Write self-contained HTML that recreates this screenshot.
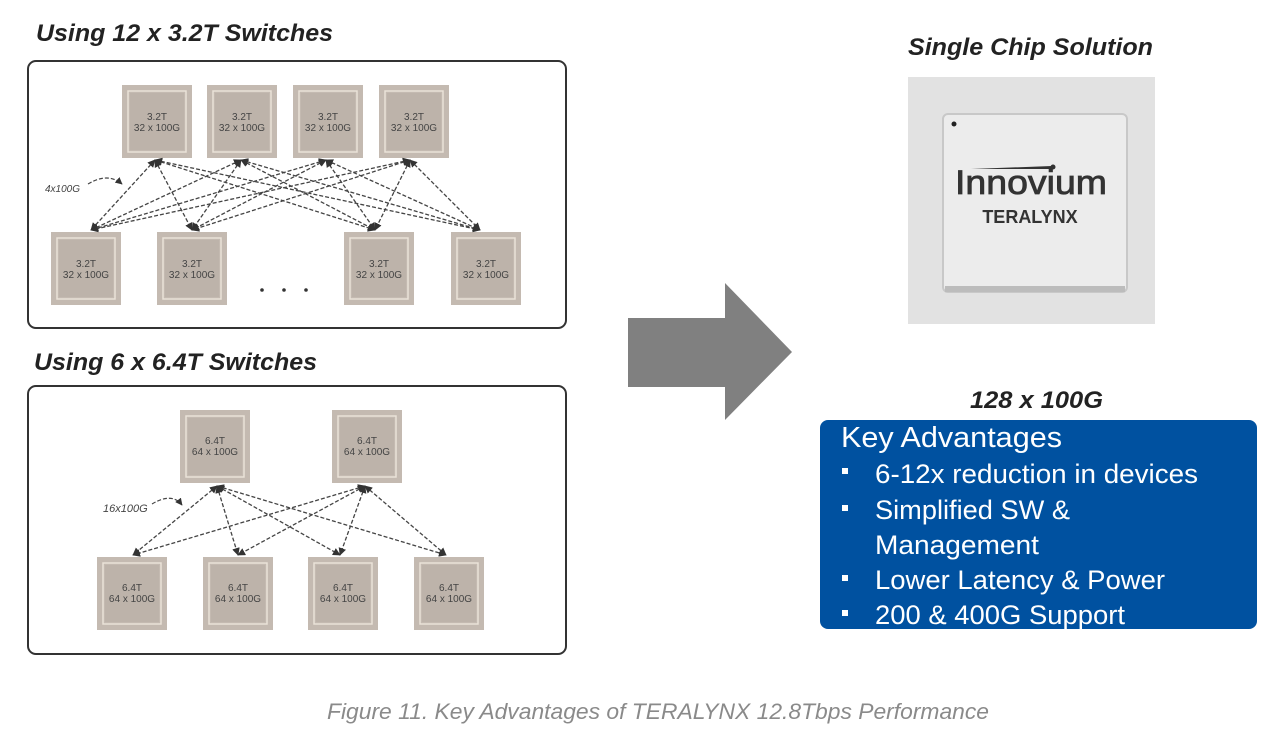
<!DOCTYPE html>
<html><head><meta charset="utf-8"><style>
html,body{margin:0;padding:0;background:#fff;}
svg{display:block;}
.h{font-family:"Liberation Sans",sans-serif;font-weight:bold;font-style:italic;font-size:24px;fill:#222;}
.cl{font-family:"Liberation Sans",sans-serif;font-size:10px;fill:#444;text-anchor:middle;}
.w{font-family:"Liberation Sans",sans-serif;fill:#fff;}
</style></head><body>
<svg width="1278" height="753" viewBox="0 0 1278 753" xmlns="http://www.w3.org/2000/svg">
<defs>
<marker id="a" viewBox="0 0 10 10" refX="9" refY="5" markerWidth="6" markerHeight="6" orient="auto-start-reverse"><path d="M0,0 L10,5 L0,10 z" fill="#333"/></marker>
<g id="chip"><rect x="0" y="0" width="70" height="73" fill="#c4bab1"/><rect x="6" y="6" width="58" height="61" fill="none" stroke="#eae2d8" stroke-width="1.5"/><rect x="8" y="8" width="54" height="57" fill="#bdb3aa"/></g>
</defs>
<text class="h" x="36" y="41" textLength="297" lengthAdjust="spacingAndGlyphs">Using 12 x 3.2T Switches</text>
<text class="h" x="34" y="370" textLength="283" lengthAdjust="spacingAndGlyphs">Using 6 x 6.4T Switches</text>
<rect x="28" y="61" width="538" height="267" rx="8" fill="#fff" stroke="#333" stroke-width="2"/>
<rect x="28" y="386" width="538" height="268" rx="8" fill="#fff" stroke="#333" stroke-width="2"/>

<g>
<use href="#chip" x="122" y="85"/><use href="#chip" x="207" y="85"/><use href="#chip" x="293" y="85"/><use href="#chip" x="379" y="85"/>
<use href="#chip" x="51" y="232"/><use href="#chip" x="157" y="232"/><use href="#chip" x="344" y="232"/><use href="#chip" x="451" y="232"/>
</g>
<g>
<text class="cl" x="157" y="120">3.2T</text><text class="cl" x="157" y="131">32 x 100G</text>
<text class="cl" x="242" y="120">3.2T</text><text class="cl" x="242" y="131">32 x 100G</text>
<text class="cl" x="328" y="120">3.2T</text><text class="cl" x="328" y="131">32 x 100G</text>
<text class="cl" x="414" y="120">3.2T</text><text class="cl" x="414" y="131">32 x 100G</text>
<text class="cl" x="86" y="267">3.2T</text><text class="cl" x="86" y="278">32 x 100G</text>
<text class="cl" x="192" y="267">3.2T</text><text class="cl" x="192" y="278">32 x 100G</text>
<text class="cl" x="379" y="267">3.2T</text><text class="cl" x="379" y="278">32 x 100G</text>
<text class="cl" x="486" y="267">3.2T</text><text class="cl" x="486" y="278">32 x 100G</text>
</g>
<g stroke="#444" stroke-width="1.3" stroke-dasharray="4,2" fill="none" marker-start="url(#a)" marker-end="url(#a)">
<line x1="155" y1="160" x2="91" y2="230"/><line x1="155" y1="160" x2="192" y2="230"/><line x1="155" y1="160" x2="375" y2="230"/><line x1="155" y1="160" x2="480" y2="230"/>
<line x1="241" y1="160" x2="91" y2="230"/><line x1="241" y1="160" x2="192" y2="230"/><line x1="241" y1="160" x2="375" y2="230"/><line x1="241" y1="160" x2="480" y2="230"/>
<line x1="326" y1="160" x2="91" y2="230"/><line x1="326" y1="160" x2="192" y2="230"/><line x1="326" y1="160" x2="375" y2="230"/><line x1="326" y1="160" x2="480" y2="230"/>
<line x1="410" y1="160" x2="91" y2="230"/><line x1="410" y1="160" x2="192" y2="230"/><line x1="410" y1="160" x2="375" y2="230"/><line x1="410" y1="160" x2="480" y2="230"/>
</g>
<path d="M88,184 Q108,172 122,184" stroke="#444" stroke-width="1.2" stroke-dasharray="4,2" fill="none" marker-end="url(#a)"/>
<text x="45" y="192" font-family="Liberation Sans,sans-serif" font-style="italic" font-size="10" fill="#444">4x100G</text>
<circle cx="262" cy="290" r="1.8" fill="#333"/><circle cx="284" cy="290" r="1.8" fill="#333"/><circle cx="306" cy="290" r="1.8" fill="#333"/>

<use href="#chip" x="180" y="410"/><use href="#chip" x="332" y="410"/>
<use href="#chip" x="97" y="557"/><use href="#chip" x="203" y="557"/><use href="#chip" x="308" y="557"/><use href="#chip" x="414" y="557"/>
<text class="cl" x="215" y="444">6.4T</text><text class="cl" x="215" y="455">64 x 100G</text>
<text class="cl" x="367" y="444">6.4T</text><text class="cl" x="367" y="455">64 x 100G</text>
<text class="cl" x="132" y="591">6.4T</text><text class="cl" x="132" y="602">64 x 100G</text>
<text class="cl" x="238" y="591">6.4T</text><text class="cl" x="238" y="602">64 x 100G</text>
<text class="cl" x="343" y="591">6.4T</text><text class="cl" x="343" y="602">64 x 100G</text>
<text class="cl" x="449" y="591">6.4T</text><text class="cl" x="449" y="602">64 x 100G</text>
<g stroke="#444" stroke-width="1.3" stroke-dasharray="4,2" fill="none" marker-start="url(#a)" marker-end="url(#a)">
<line x1="217" y1="486" x2="133" y2="555"/><line x1="217" y1="486" x2="238" y2="555"/><line x1="217" y1="486" x2="340" y2="555"/><line x1="217" y1="486" x2="446" y2="555"/>
<line x1="365" y1="486" x2="133" y2="555"/><line x1="365" y1="486" x2="238" y2="555"/><line x1="365" y1="486" x2="340" y2="555"/><line x1="365" y1="486" x2="446" y2="555"/>
</g>
<path d="M152,504 Q172,492 182,505" stroke="#444" stroke-width="1.2" stroke-dasharray="4,2" fill="none" marker-end="url(#a)"/>
<text x="103" y="512" font-family="Liberation Sans,sans-serif" font-style="italic" font-size="11" fill="#444">16x100G</text>

<polygon points="628,318 725,318 725,283 792,352 725,420 725,387 628,387" fill="#808080"/>

<text class="h" x="908" y="55" textLength="245" lengthAdjust="spacingAndGlyphs">Single Chip Solution</text>
<rect x="908" y="77" width="247" height="247" fill="#e2e2e2"/>
<rect x="943" y="114" width="184" height="178" rx="5" fill="#ececec" stroke="#c8c8c8" stroke-width="2"/>
<rect x="945" y="286" width="180" height="6" fill="#bcbcbc"/>
<circle cx="954" cy="124" r="2.5" fill="#222"/>
<path d="M971,169 L1052,166 L1052,169 z" fill="#333"/><circle cx="1053" cy="167" r="2.5" fill="#333"/>
<text x="955" y="194" font-family="Liberation Sans,sans-serif" font-size="34" fill="#333" stroke="#333" stroke-width="0.8" textLength="152" lengthAdjust="spacingAndGlyphs">Innovium</text>
<text x="1030" y="223" text-anchor="middle" font-family="Liberation Sans,sans-serif" font-weight="bold" font-size="18" fill="#333">TERALYNX</text>

<text class="h" x="970" y="408" textLength="133" lengthAdjust="spacingAndGlyphs">128 x 100G</text>
<rect x="820" y="420" width="437" height="209" rx="8" fill="#0051a0"/>
<text class="w" x="841" y="447" font-size="29" textLength="221" lengthAdjust="spacingAndGlyphs">Key Advantages</text>
<rect x="842" y="468" width="6" height="6" fill="#fff"/><text class="w" x="875" y="483" font-size="27" textLength="323" lengthAdjust="spacingAndGlyphs">6-12x reduction in devices</text>
<rect x="842" y="505" width="6" height="6" fill="#fff"/><text class="w" x="875" y="519" font-size="27" textLength="195" lengthAdjust="spacingAndGlyphs">Simplified SW &amp;</text>
<text class="w" x="875" y="554" font-size="27" textLength="164" lengthAdjust="spacingAndGlyphs">Management</text>
<rect x="842" y="575" width="6" height="6" fill="#fff"/><text class="w" x="875" y="589" font-size="27" textLength="290" lengthAdjust="spacingAndGlyphs">Lower Latency &amp; Power</text>
<rect x="842" y="610" width="6" height="6" fill="#fff"/><text class="w" x="875" y="624" font-size="27" textLength="250" lengthAdjust="spacingAndGlyphs">200 &amp; 400G Support</text>

<text x="327" y="719" font-family="Liberation Sans,sans-serif" font-style="italic" font-size="22" fill="#8a8a8a" textLength="662" lengthAdjust="spacingAndGlyphs">Figure 11. Key Advantages of TERALYNX 12.8Tbps Performance</text>
</svg>
</body></html>
